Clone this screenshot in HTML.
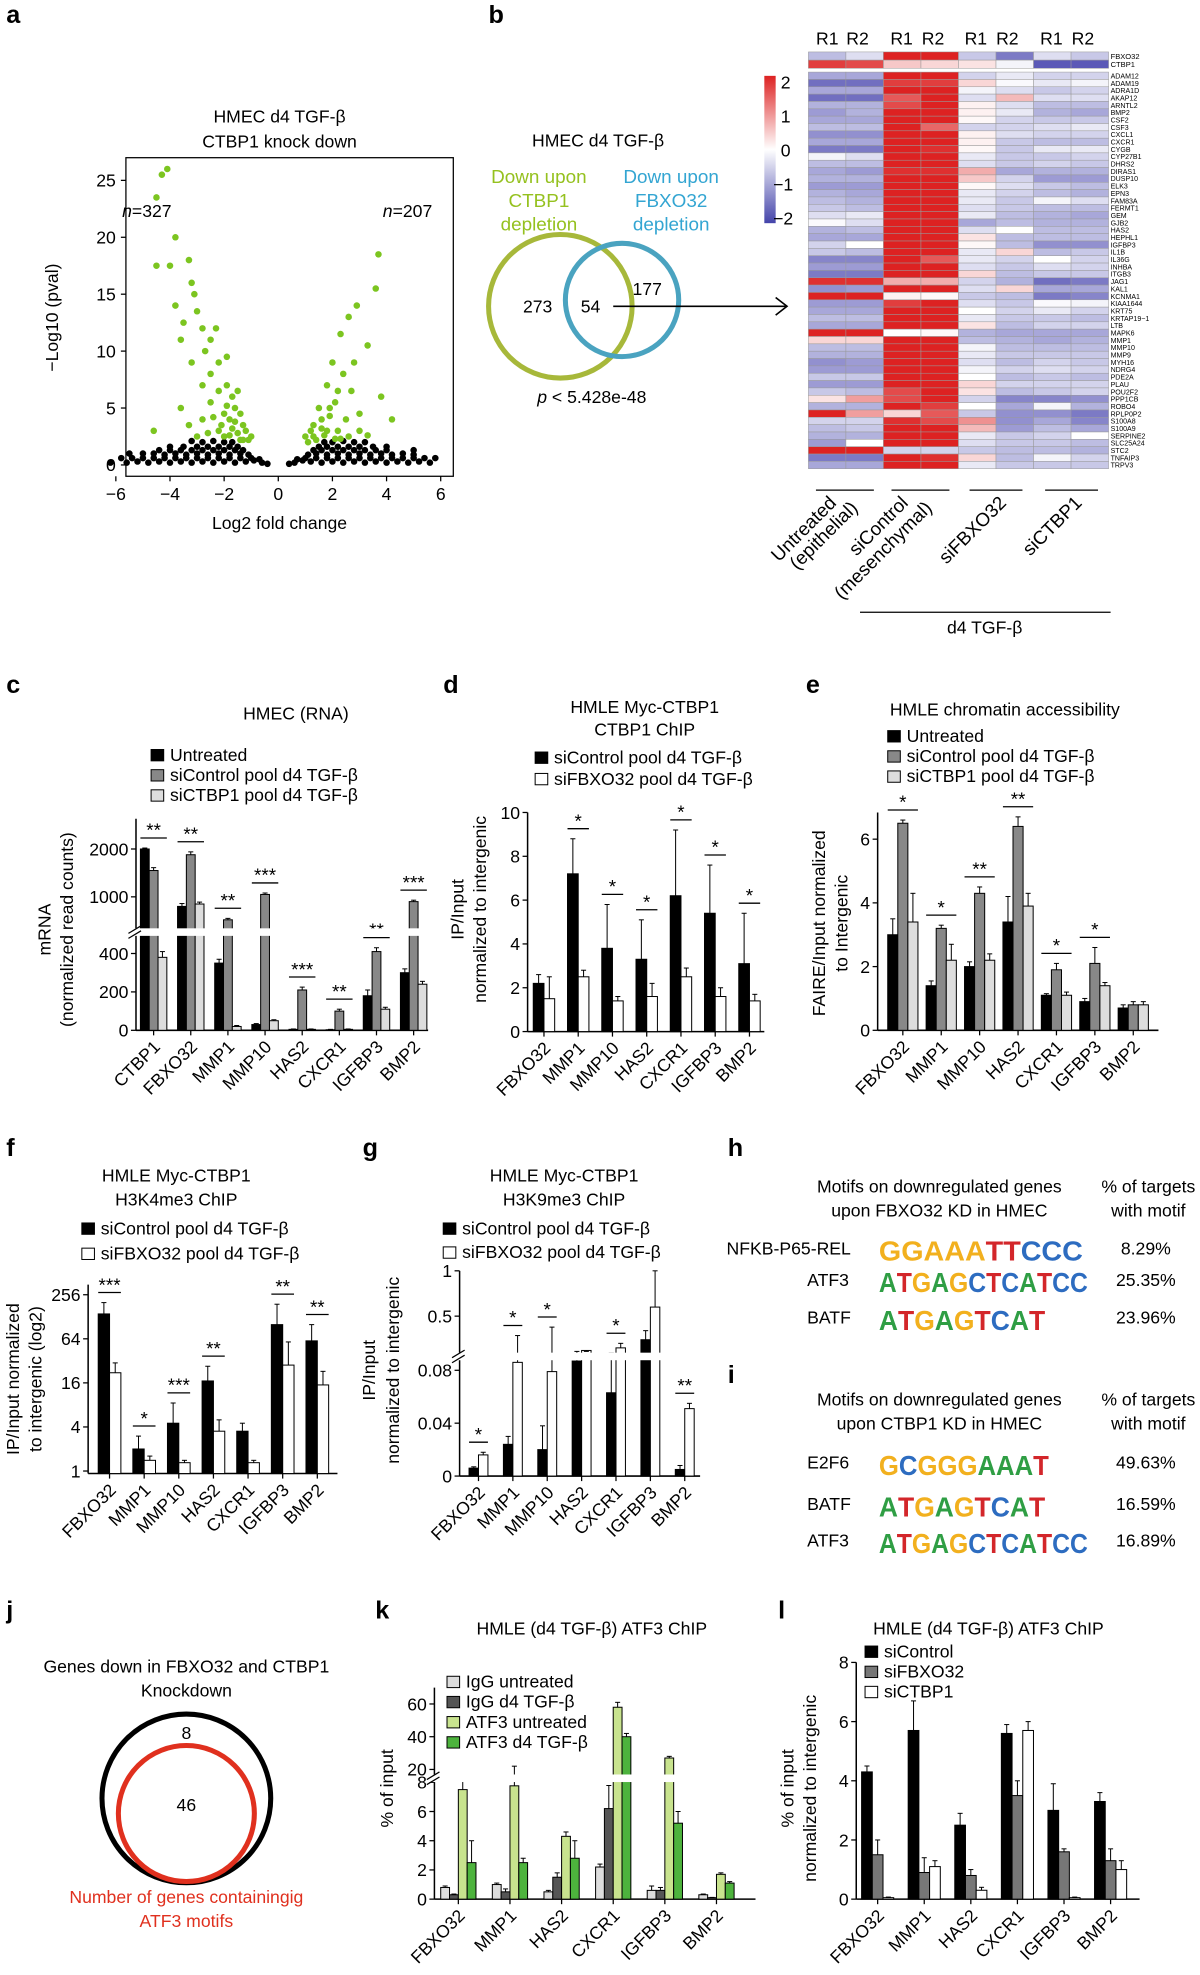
<!DOCTYPE html>
<html><head><meta charset="utf-8"><style>
html,body{margin:0;padding:0;background:#fff}
svg{display:block;font-family:"Liberation Sans",sans-serif}
</style></head><body>
<svg id="fig" xmlns="http://www.w3.org/2000/svg" width="1200" height="1975" viewBox="0 0 953 1568">
<g id="static" font-size="14" fill="#000">
<text x="5" y="18" font-size="20" font-weight="bold">a</text>
<text x="388" y="18" font-size="20" font-weight="bold">b</text>
<text x="5" y="550" font-size="20" font-weight="bold">c</text>
<text x="352" y="550" font-size="20" font-weight="bold">d</text>
<text x="640" y="550" font-size="20" font-weight="bold">e</text>
<text x="5" y="918" font-size="20" font-weight="bold">f</text>
<text x="288" y="918" font-size="20" font-weight="bold">g</text>
<text x="578" y="918" font-size="20" font-weight="bold">h</text>
<text x="578" y="1098" font-size="20" font-weight="bold">i</text>
<text x="5" y="1285" font-size="20" font-weight="bold">j</text>
<text x="298" y="1285" font-size="20" font-weight="bold">k</text>
<text x="618" y="1285" font-size="20" font-weight="bold">l</text>

<!-- a -->
<text x="222" y="97" text-anchor="middle">HMEC d4 TGF-β</text>
<text x="222" y="117" text-anchor="middle">CTBP1 knock down</text>
<rect x="100" y="125" width="260" height="253" fill="none" stroke="#000"/>
<text x="222" y="420" text-anchor="middle">Log2 fold change</text>
<text transform="translate(46,252) rotate(-90)" text-anchor="middle">−Log10 (pval)</text>
<text x="97" y="172"><tspan font-style="italic">n</tspan>=327</text>
<text x="304" y="172"><tspan font-style="italic">n</tspan>=207</text>

<!-- b venn -->
<text x="475" y="116" text-anchor="middle">HMEC d4 TGF-β</text>
<g fill="#95c11f" text-anchor="middle" font-size="15"><text x="428" y="145">Down upon</text><text x="428" y="164">CTBP1</text><text x="428" y="183">depletion</text></g>
<g fill="#33a5d2" text-anchor="middle" font-size="15"><text x="533" y="145">Down upon</text><text x="533" y="164">FBXO32</text><text x="533" y="183">depletion</text></g>
<circle cx="445" cy="243" r="57" fill="none" stroke="#a7b83a" stroke-width="4"/>
<circle cx="494" cy="238" r="45" fill="none" stroke="#4aa3c0" stroke-width="4"/>
<text x="427" y="248" text-anchor="middle">273</text>
<text x="469" y="248" text-anchor="middle">54</text>
<text x="514" y="234" text-anchor="middle">177</text>
<text x="470" y="320" text-anchor="middle"><tspan font-style="italic">p</tspan> &lt; 5.428e-48</text>
<line x1="487" y1="243" x2="624" y2="243" stroke="#000" stroke-width="1.3"/>
<polyline points="616,236 625,243 616,250" fill="none" stroke="#000" stroke-width="1.3"/>

<!-- heatmap extras -->
<defs><linearGradient id="cb" x1="0" y1="0" x2="0" y2="1"><stop offset="0" stop-color="#dd2222"/><stop offset="0.5" stop-color="#ffffff"/><stop offset="1" stop-color="#4444aa"/></linearGradient></defs>
<rect x="607" y="60" width="9" height="117" fill="url(#cb)"/>
<g font-size="14"><text x="620" y="70">2</text><text x="620" y="97">1</text><text x="620" y="124">0</text><text x="614" y="151">−1</text><text x="614" y="178">−2</text></g>
<g font-size="14" text-anchor="middle">
<text x="657" y="35">R1</text><text x="681" y="35">R2</text><text x="716" y="35">R1</text><text x="741" y="35">R2</text><text x="775" y="35">R1</text><text x="800" y="35">R2</text><text x="835" y="35">R1</text><text x="860" y="35">R2</text></g>
<g stroke="#000"><line x1="648" y1="389" x2="694" y2="389"/><line x1="708" y1="389" x2="754" y2="389"/><line x1="770" y1="389" x2="812" y2="389"/><line x1="830" y1="389" x2="872" y2="389"/><line x1="683" y1="486" x2="882" y2="486"/></g>
<g font-size="15" text-anchor="end">
<text transform="translate(665,400) rotate(-45)">Untreated</text><text transform="translate(682,404) rotate(-45)">(epithelial)</text>
<text transform="translate(722,400) rotate(-45)">siControl</text><text transform="translate(741,404) rotate(-45)">(mesenchymal)</text>
<text transform="translate(800,400) rotate(-45)">siFBXO32</text>
<text transform="translate(860,400) rotate(-45)">siCTBP1</text></g>
<text x="782" y="503" text-anchor="middle">d4 TGF-β</text>

<!-- panel titles -->
<text x="235" y="571" text-anchor="middle">HMEC (RNA)</text>
<text transform="translate(40,738) rotate(-90)" text-anchor="middle">mRNA</text>
<text transform="translate(58,738) rotate(-90)" text-anchor="middle">(normalized read counts)</text>
<text x="512" y="566" text-anchor="middle">HMLE Myc-CTBP1</text>
<text x="512" y="584" text-anchor="middle">CTBP1 ChIP</text>
<text transform="translate(368,722) rotate(-90)" text-anchor="middle">IP/Input</text>
<text transform="translate(386,722) rotate(-90)" text-anchor="middle">normalized to intergenic</text>
<text x="798" y="568" text-anchor="middle">HMLE chromatin accessibility</text>
<text transform="translate(655,733) rotate(-90)" text-anchor="middle">FAIRE/Input normalized</text>
<text transform="translate(673,733) rotate(-90)" text-anchor="middle">to Intergenic</text>
<text x="140" y="938" text-anchor="middle">HMLE Myc-CTBP1</text>
<text x="140" y="957" text-anchor="middle">H3K4me3 ChIP</text>
<text transform="translate(15,1095) rotate(-90)" text-anchor="middle">IP/Input normalized</text>
<text transform="translate(33,1095) rotate(-90)" text-anchor="middle">to intergenic (log2)</text>
<text x="448" y="938" text-anchor="middle">HMLE Myc-CTBP1</text>
<text x="448" y="957" text-anchor="middle">H3K9me3 ChIP</text>
<text transform="translate(298,1088) rotate(-90)" text-anchor="middle">IP/Input</text>
<text transform="translate(317,1088) rotate(-90)" text-anchor="middle">normalized to intergenic</text>

<!-- h -->
<text x="746" y="947" text-anchor="middle">Motifs on downregulated genes</text>
<text x="746" y="966" text-anchor="middle">upon  FBXO32 KD in HMEC</text>
<text x="912" y="947" text-anchor="middle">% of targets</text>
<text x="912" y="966" text-anchor="middle">with motif</text>
<text x="577" y="996">NFKB-P65-REL</text>
<text x="641" y="1021">ATF3</text>
<text x="641" y="1051">BATF</text>
<text x="910" y="996" text-anchor="middle">8.29%</text>
<text x="910" y="1021" text-anchor="middle">25.35%</text>
<text x="910" y="1051" text-anchor="middle">23.96%</text>
<!-- i -->
<text x="746" y="1116" text-anchor="middle">Motifs on downregulated genes</text>
<text x="746" y="1135" text-anchor="middle">upon CTBP1 KD in HMEC</text>
<text x="912" y="1116" text-anchor="middle">% of targets</text>
<text x="912" y="1135" text-anchor="middle">with motif</text>
<text x="641" y="1166">E2F6</text>
<text x="641" y="1199">BATF</text>
<text x="641" y="1228">ATF3</text>
<text x="910" y="1166" text-anchor="middle">49.63%</text>
<text x="910" y="1199" text-anchor="middle">16.59%</text>
<text x="910" y="1228" text-anchor="middle">16.89%</text>
<g font-weight="bold" font-size="22">
<text x="698" y="1001" textLength="162" lengthAdjust="spacingAndGlyphs"><tspan fill="#f2b01e">GGAAA</tspan><tspan fill="#d3262a">TT</tspan><tspan fill="#2d6cc0">CCC</tspan></text>
<text x="698" y="1026" textLength="166" lengthAdjust="spacingAndGlyphs"><tspan fill="#2f9e44">A</tspan><tspan fill="#d3262a">T</tspan><tspan fill="#f2b01e">G</tspan><tspan fill="#2f9e44">A</tspan><tspan fill="#f2b01e">G</tspan><tspan fill="#2d6cc0">C</tspan><tspan fill="#d3262a">T</tspan><tspan fill="#2d6cc0">C</tspan><tspan fill="#2f9e44">A</tspan><tspan fill="#d3262a">T</tspan><tspan fill="#2d6cc0">C</tspan><tspan fill="#2d6cc0">C</tspan></text>
<text x="698" y="1056" textLength="132" lengthAdjust="spacingAndGlyphs"><tspan fill="#2f9e44">A</tspan><tspan fill="#d3262a">T</tspan><tspan fill="#f2b01e">G</tspan><tspan fill="#2f9e44">A</tspan><tspan fill="#f2b01e">G</tspan><tspan fill="#d3262a">T</tspan><tspan fill="#2d6cc0">C</tspan><tspan fill="#2f9e44">A</tspan><tspan fill="#d3262a">T</tspan></text>
<text x="698" y="1171" textLength="135" lengthAdjust="spacingAndGlyphs"><tspan fill="#f2b01e">G</tspan><tspan fill="#2d6cc0">C</tspan><tspan fill="#f2b01e">GGG</tspan><tspan fill="#2f9e44">AA</tspan><tspan fill="#2f9e44">A</tspan><tspan fill="#d3262a">T</tspan></text>
<text x="698" y="1204" textLength="132" lengthAdjust="spacingAndGlyphs"><tspan fill="#2f9e44">A</tspan><tspan fill="#d3262a">T</tspan><tspan fill="#f2b01e">G</tspan><tspan fill="#2f9e44">A</tspan><tspan fill="#f2b01e">G</tspan><tspan fill="#d3262a">T</tspan><tspan fill="#2d6cc0">C</tspan><tspan fill="#2f9e44">A</tspan><tspan fill="#d3262a">T</tspan></text>
<text x="698" y="1233" textLength="166" lengthAdjust="spacingAndGlyphs"><tspan fill="#2f9e44">A</tspan><tspan fill="#d3262a">T</tspan><tspan fill="#f2b01e">G</tspan><tspan fill="#2f9e44">A</tspan><tspan fill="#f2b01e">G</tspan><tspan fill="#2d6cc0">C</tspan><tspan fill="#d3262a">T</tspan><tspan fill="#2d6cc0">C</tspan><tspan fill="#2f9e44">A</tspan><tspan fill="#d3262a">T</tspan><tspan fill="#2d6cc0">C</tspan><tspan fill="#2d6cc0">C</tspan></text>
</g>
<!-- j -->
<text x="148" y="1328" text-anchor="middle">Genes down in FBXO32 and CTBP1</text>
<text x="148" y="1347" text-anchor="middle">Knockdown</text>
<circle cx="148" cy="1428" r="67" fill="none" stroke="#000" stroke-width="4"/>
<circle cx="148" cy="1440" r="54" fill="none" stroke="#e0301e" stroke-width="4"/>
<text x="148" y="1381" text-anchor="middle">8</text>
<text x="148" y="1438" text-anchor="middle">46</text>
<text x="148" y="1511" text-anchor="middle" fill="#e0301e">Number of genes containingig</text>
<text x="148" y="1530" text-anchor="middle" fill="#e0301e">ATF3 motifs</text>
<!-- k,l titles -->
<text x="470" y="1298" text-anchor="middle">HMLE (d4 TGF-β) ATF3 ChIP</text>
<text transform="translate(312,1420) rotate(-90)" text-anchor="middle">% of input</text>
<text x="785" y="1298" text-anchor="middle">HMLE (d4 TGF-β) ATF3 ChIP</text>
<text transform="translate(630,1420) rotate(-90)" text-anchor="middle">% of input</text>
<text transform="translate(648,1420) rotate(-90)" text-anchor="middle">normalized to intergenic</text>
</g>
<g id="dyn"></g>
</svg>
<script>
// ---------- data: volcano ----------
const greenX=[-4.3,-4.1,-4.5,-3.8,-4.0,-4.5,-3.3,-3.2,-3.1,-3.0,-3.5,-2.8,-2.5,-3.6,-2.7,-2.2,-3.2,-2.5,-1.9,-2.8,-2.2,-1.6,-2.5,-1.8,-1.3,-2.1,-1.5,-1.0,-2.8,-3.6,-4.6,-3.0,-1.7,-2.3,-3.8,-1.9,-1.2,-1.4,-2.0,-2.4,-1.7,-1.1,-2.6,-3.3,-1.5,-2.0,-1.3,-1.6,-1.9,-2.2,-1.4,-1.8,
3.7,3.6,2.9,2.6,2.3,3.3,2.0,2.8,2.4,1.8,2.7,1.5,2.1,1.3,2.5,1.8,3.8,3.0,1.0,1.6,2.2,3.3,4.2,2.2,1.2,1.4,1.9,2.6,1.1,1.7,2.3,3.0,1.3,1.6,1.9,2.1];
const greenY=[25.5,26,23.5,20,17.5,17.5,18,16,15,13.5,12.5,12,11,11,10,9,9,8,7,7,6.5,5,5.5,4,3.5,3.5,2.8,2.5,4,5,3,2.5,6,12,14,9.5,3,4.5,4.5,4.2,3.2,2.2,2.8,3.5,6.5,2.5,2.2,3.8,5.2,3,2.2,2.6,
18.5,15.5,14,13,11.5,10.5,9,9,8,7,6.5,5,5.5,3.5,4,3,6,4.5,2.5,4,3,2.6,4,6.5,3,2.2,5,2.5,2,2.6,2.3,3,2.5,3.2,4.3,2.3];
const blackX=[-5.6,-5.2,-4.8,-4.4,-4.0,-3.6,-3.2,-2.8,-2.4,-2.0,-1.6,-1.2,-0.9,0.9,1.2,1.6,2.0,2.4,2.8,3.2,3.6,4.0,4.4,4.8,5.2,5.6,
-5.4,-5.0,-4.6,-4.2,-3.8,-3.4,-3.0,-2.6,-2.2,-1.8,-1.4,-1.0,-0.7,0.7,1.0,1.4,1.8,2.2,2.6,3.0,3.4,3.8,4.2,4.6,5.0,5.4,
-5.0,-4.6,-4.2,-3.8,-3.4,-3.0,-2.6,-2.2,-1.8,-1.4,-1.1,1.1,1.4,1.8,2.2,2.6,3.0,3.4,3.8,4.2,4.6,5.0,
-4.4,-4.0,-3.6,-3.2,-2.8,-2.4,-2.0,-1.6,-1.3,1.3,1.6,2.0,2.4,2.8,3.2,3.6,4.0,
-4.0,-3.5,-3.0,-2.6,-2.2,-1.8,-1.5,1.5,1.8,2.2,2.6,3.0,3.5,4.0,
-2.8,-2.4,-2.0,-1.7,1.7,2.0,2.4,2.8,-0.6,-0.4,0.4,0.6,-3.2,3.2,-5.8,5.8,-6.2,-5.5,5.0];
const blackY=[0.2,0.3,0.2,0.3,0.2,0.3,0.2,0.3,0.2,0.3,0.2,0.3,0.4,0.4,0.3,0.2,0.3,0.2,0.3,0.2,0.3,0.2,0.3,0.2,0.3,0.2,
0.6,0.6,0.6,0.6,0.6,0.6,0.6,0.6,0.6,0.6,0.6,0.6,0.5,0.5,0.6,0.6,0.6,0.6,0.6,0.6,0.6,0.6,0.6,0.6,0.6,0.6,
1.0,1.0,0.9,1.0,0.9,1.0,0.9,1.0,0.9,1.0,0.9,0.9,1.0,0.9,1.0,0.9,1.0,0.9,1.0,0.9,1.0,0.9,
1.3,1.3,1.3,1.3,1.3,1.3,1.3,1.3,1.3,1.3,1.3,1.3,1.3,1.3,1.3,1.3,1.3,
1.6,1.6,1.6,1.6,1.6,1.6,1.6,1.6,1.6,1.6,1.6,1.6,1.6,1.6,
2.0,2.1,2.0,2.0,2.0,2.0,2.1,2.0,0.2,0.1,0.1,0.2,2.1,2.0,0.6,0.6,0.2,1.0,1.3];
const volcXTicks=[-6,-4,-2,0,2,4,6];
const volcYTicks=[0,5,10,15,20,25];

// ---------- data: heatmap ----------
const hmTopGenes=["FBXO32","CTBP1"];
const hmTopVals=[[-0.6,-0.3,1.9,1.9,-0.5,-1.2,-0.3,-0.5],[1.4,1.3,0.4,0.3,0.2,-0.1,-1.5,-1.5]];
const hmGenes=["ADAM12","ADAM19","ADRA1D","AKAP12","ARNTL2","BMP2","CSF2","CSF3","CXCL1","CXCR1","CYGB","CYP27B1","DHRS2","DIRAS1","DUSP10","ELK3","EPN3","FAM83A","FERMT1","GEM","GJB2","HAS2","HEPHL1","IGFBP3","IL1B","IL36G","INHBA","ITGB3","JAG1","KAL1","KCNMA1","KIAA1644","KRT75","KRTAP19−1","LTB","MAPK6","MMP1","MMP10","MMP9","MYH16","NDRG4","PDE2A","PLAU","POU2F2","PPP1CB","ROBO4","RPLP0P2","S100A8","S100A9","SERPINE2","SLC25A24","STC2","TNFAIP3","TRPV3"];
const hmVals=[
[-0.8,-0.8,1.7,1.8,-0.4,-0.2,-0.4,-0.4],[-1.3,-1.3,1.4,1.4,0.3,-0.05,-0.2,-0.1],[-0.8,-0.8,1.7,1.7,-0.1,-0.3,-0.5,-0.4],[-1.3,-1.3,1.2,1.8,-0.3,0.5,-0.3,-0.3],
[-0.7,-0.7,1.3,2,0.1,-0.3,-0.6,-0.6],[-0.9,-0.7,1.7,1.7,0.1,-0.2,-0.7,-0.8],[-0.8,-0.8,1.7,1.6,0.05,-0.4,-0.5,-0.5],[-0.6,-0.6,2,1.1,-0.4,-0.4,-0.3,-0.2],
[-1,-1,1.7,1.7,0.1,-0.3,-0.4,-0.4],[-0.8,-0.8,1.6,2,0.1,-0.5,-0.6,-0.6],[-1.2,-1.2,1.8,1.5,0.05,-0.5,-0.2,-0.2],[-0.1,-0.3,1.8,1.8,-0.2,-0.5,-0.5,-0.4],
[-0.6,-0.6,1.8,1.8,-0.3,-0.5,-0.4,-0.5],[-0.8,-0.9,1.5,1.5,0.6,-0.8,-0.7,-0.7],[-0.7,-0.7,1.8,1.8,0.4,-0.4,-0.9,-0.9],[-0.9,-0.9,1.8,1.8,0.05,-0.3,-0.5,-0.6],
[-0.7,-0.8,1.9,1.8,-0.2,-0.4,-0.6,-0.7],[-0.6,-0.7,1.7,1.8,-0.2,-0.5,-0.1,-0.3],[-0.5,-0.6,1.8,1.7,-0.3,-0.5,-0.6,-0.6],[-0.3,-0.2,1.8,1.8,-0.2,-0.6,-0.7,-0.8],
[-0.05,-0.3,1.8,1.7,-0.8,-0.6,-0.7,-0.7],[-0.7,-0.6,1.8,1.6,-0.3,0,-0.6,-0.6],[-0.8,-0.8,1.8,1.7,0.2,-0.6,-0.6,-0.6],[-0.4,0,1.8,1.7,0.05,-0.6,-1,-1],
[-0.5,-0.6,1.8,1.6,-0.2,0.3,-0.6,-0.5],[-1.1,-1.1,2,1.2,-0.2,-0.4,0,-0.4],[-0.9,-0.9,1.8,1.7,-0.3,-0.5,-0.3,-0.4],[-1.2,-1.2,1.6,1.8,0.3,-0.6,-0.5,-0.5],
[1.5,1.5,0.6,0.6,-0.4,-0.7,-1.3,-1.2],[-1,-0.9,1.7,1.7,-0.3,0.3,-0.8,-0.8],[1.6,1.8,0.1,0.05,-0.5,-0.6,-1.2,-1.1],[-0.9,-0.9,1.4,2,-0.3,-0.5,-0.05,-0.1],
[-0.8,-0.8,1.8,1.6,0,-0.4,-0.2,-0.4],[-0.6,-0.6,1.6,2,-0.2,-0.5,-0.5,-0.6],[-0.8,-0.8,1.8,1.7,0.2,-0.6,-0.4,-0.4],[1.6,1.9,0,0.05,-0.7,-0.8,-0.8,-0.8],
[0.3,0.3,1.7,1.8,-0.6,-0.7,-0.8,-0.7],[-0.6,-0.6,1.9,1.8,-0.1,-0.6,-0.6,-0.6],[-0.7,-0.7,2,1.8,-0.2,-0.5,-0.5,-0.5],[-1,-0.9,1.9,1.8,-0.3,-0.6,-0.4,-0.5],
[-0.9,-0.9,1.9,1.6,-0.1,-0.4,-0.3,-0.4],[-0.5,-0.5,1.9,1.7,0,-0.6,-0.5,-0.6],[-0.9,-0.9,1.7,1.6,0.3,-0.4,-0.4,-0.4],[-0.5,-0.6,1.3,2,0.2,-0.6,-0.5,-0.4],
[0.2,0.7,1.3,1.7,-0.4,-1.1,-1.1,-1],[-0.7,-0.7,2,1.4,0,-0.8,-0.1,-0.7],[1.8,0.7,0.3,1.2,-0.5,-1,-1,-1.2],[-0.4,-0.4,1.5,1.3,0.8,-1,-0.8,-1.1],
[-0.6,-0.5,1.6,1.8,0.5,-0.9,-0.6,-0.8],[-0.7,-0.7,1.7,1.8,-0.2,-0.5,-0.4,0],[-0.9,0,1.8,2,-0.3,-0.5,-0.5,-0.6],[1.9,1.9,-0.4,-0.4,-0.5,-0.6,-0.6,-0.7],
[-1.2,-1.2,1.8,1.5,0.3,-0.6,-0.1,-0.4],[-0.8,-0.8,1.8,1.8,-0.2,-0.5,-0.5,-0.5]];

// ---------- data: bar panels ----------
const cCats=["CTBP1","FBXO32","MMP1","MMP10","HAS2","CXCR1","IGFBP3","BMP2"];
const cUntreated=[2000,800,350,30,5,3,180,300];
const cSiControl=[1550,1880,520,1050,210,100,410,900];
const cSiCTBP1=[380,850,20,50,5,5,110,240];
const cErr=[[20,60,20,5,2,2,30,20],[60,60,30,30,15,10,20,30],[30,40,5,5,2,2,10,15]];
const cStars=["**","**","**","***","***","**","**","***"];
const cTicks=[0,200,400,1000,2000];

const dCats=["FBXO32","MMP1","MMP10","HAS2","CXCR1","IGFBP3","BMP2"];
const dSiControl=[2.2,7.2,3.8,3.3,6.2,5.4,3.1];
const dSiFBXO32=[1.5,2.5,1.4,1.6,2.5,1.6,1.4];
const dErr=[[0.4,1.6,2.0,1.8,3.0,2.2,2.3],[1.0,0.3,0.2,0.6,0.4,0.4,0.3]];
const dStars=["","*","*","*","*","*","*"];
const dTicks=[0,2,4,6,8,10];

const eCats=["FBXO32","MMP1","MMP10","HAS2","CXCR1","IGFBP3","BMP2"];
const eUntreated=[3.0,1.4,2.0,3.4,1.1,0.9,0.7];
const eSiControl=[6.5,3.2,4.3,6.4,1.9,2.1,0.8];
const eSiCTBP1=[3.4,2.2,2.2,3.9,1.1,1.4,0.8];
const eErr=[[0.5,0.15,0.15,0.8,0.05,0.1,0.1],[0.1,0.1,0.2,0.3,0.2,0.5,0.1],[0.9,0.5,0.2,0.4,0.1,0.1,0.1]];
const eStars=["*","*","**","**","*","*",""];
const eTicks=[0,2,4,6];

const fCats=["FBXO32","MMP1","MMP10","HAS2","CXCR1","IGFBP3","BMP2"];
const fSiControl=[140,2,4.5,17,3.5,100,60];
const fSiFBXO32=[22,1.4,1.3,3.5,1.3,28,15];
const fErr=[[60,1,4,10,1,90,40],[8,0.2,0.1,1.5,0.1,30,8]];
const fStars=["***","*","***","**","","**","**"];
const fTicks=[1,4,16,64,256];

const gCats=["FBXO32","MMP1","MMP10","HAS2","CXCR1","IGFBP3","BMP2"];
const gSiControl=[0.006,0.024,0.02,0.087,0.063,0.24,0.005];
const gSiFBXO32=[0.016,0.086,0.079,0.095,0.15,0.6,0.051];
const gErr=[[0.001,0.006,0.018,0.01,0.03,0.1,0.003],[0.002,0.2,0.3,0.003,0.05,0.4,0.004]];
const gStars=["*","*","*","","*","","**"];
const gTicks=[0,0.04,0.08,0.5,1];

const kCats=["FBXO32","MMP1","HAS2","CXCR1","IGFBP3","BMP2"];
const kIgGUnt=[0.8,1.0,0.5,2.2,0.6,0.3];
const kIgGD4=[0.3,0.5,1.5,6.2,0.6,0.1];
const kATF3Unt=[7.5,10,4.3,58,27,1.7];
const kATF3D4=[2.5,2.5,2.8,40,5.2,1.1];
const kErr=[[0.1,0.1,0.1,0.2,0.3,0.05],[0.05,0.2,0.3,4,0.2,0.02],[0.8,12,0.3,3,1,0.1],[1.5,0.3,1.2,2,0.8,0.1]];
const kTicks=[0,2,4,6,8,20,40,60];

const lCats=["FBXO32","MMP1","HAS2","CXCR1","IGFBP3","BMP2"];
const lSiControl=[4.3,5.7,2.5,5.6,3.0,3.3];
const lSiFBXO32=[1.5,0.9,0.8,3.5,1.6,1.3];
const lSiCTBP1=[0.05,1.1,0.3,5.7,0.05,1.0];
const lErr=[[0.2,1.0,0.4,0.3,0.9,0.3],[0.5,0.5,0.2,0.5,0.1,0.4],[0.02,0.2,0.1,0.3,0.02,0.3]];
const lTicks=[0,2,4,6,8];

// ---------- drawing ----------
const NS="http://www.w3.org/2000/svg";
const root=document.getElementById('dyn');
function mk(tag,attrs,parent){const e=document.createElementNS(NS,tag);for(const k in attrs)e.setAttribute(k,attrs[k]);(parent||root).appendChild(e);return e;}
function txt(x,y,s,attrs,parent){const e=mk('text',Object.assign({x:x,y:y,'font-size':14},attrs||{}),parent);e.textContent=s;return e;}

// volcano
const vx=v=>221+v*21.5, vy=v=>369-v*9.04;
const vg=mk('g',{});


for(let i=0;i<blackX.length;i++){const c=mk('circle',{cx:vx(blackX[i]),cy:vy(blackY[i]),r:2.6,fill:'#000'},vg);}
for(let i=0;i<greenX.length;i++){const c=mk('circle',{cx:vx(greenX[i]),cy:vy(greenY[i]),r:2.6,fill:'#7cc520'},vg);}
volcXTicks.forEach(t=>{mk('line',{x1:vx(t),x2:vx(t),y1:378,y2:382,stroke:'#000'});const e=txt(vx(t),397,t<0?'−'+(-t):String(t),{'text-anchor':'middle'});});
volcYTicks.forEach(t=>{mk('line',{x1:96,x2:100,y1:vy(t),y2:vy(t),stroke:'#000'});const e=txt(92,vy(t)+5,String(t),{'text-anchor':'end'});});

// heatmap
function hmColor(v){v=Math.max(-2,Math.min(2,v));let a,b,t;
 if(v>=0){a=[255,255,255];b=[221,34,34];t=v/2;}else{a=[255,255,255];b=[80,78,178];t=-v/2;}
 const c=a.map((x,i)=>Math.round(x+(b[i]-x)*Math.min(1,t*1.25)));return `rgb(${c[0]},${c[1]},${c[2]})`;}
const hx0=642,hcw=29.8;
const hg=mk('g',{});


hmTopVals.forEach((row,r)=>{row.forEach((v,c)=>{const e=mk('rect',{x:hx0+c*hcw,y:41+r*6.5,width:hcw,height:6.5,fill:hmColor(v),stroke:'#999','stroke-width':0.4},hg);});
 const l=txt(882,41+r*6.5+5.5,hmTopGenes[r],{'font-size':6},hg);});
const rh=(372-57)/hmVals.length;
hmVals.forEach((row,r)=>{row.forEach((v,c)=>{const e=mk('rect',{x:hx0+c*hcw,y:57+r*rh,width:hcw,height:rh,fill:hmColor(v),stroke:'#999','stroke-width':0.4},hg);});
 const l=txt(882,57+r*rh+rh-0.8,hmGenes[r],{'font-size':5.6},hg);});

// generic bars
function barChart(o){
 const g=mk('g',{});
 
 
 const n=o.series.length;
 mk('line',{x1:o.axisX,x2:o.axisX,y1:o.axisTop,y2:o.base,stroke:'#000','stroke-width':1.2},g);
 mk('line',{x1:o.axisX,x2:o.axisRight,y1:o.base,y2:o.base,stroke:'#000','stroke-width':1.2},g);
 o.ticks.forEach(t=>{const y=o.yf(t);mk('line',{x1:o.axisX-4,x2:o.axisX,y1:y,y2:y,stroke:'#000'},g);
   const e=txt(o.axisX-6,y+5,String(t),{'text-anchor':'end'},g);});
 o.cats.forEach((cat,i)=>{
  const cx=o.c0+i*o.step;
  let top=o.base;
  o.series.forEach((s,j)=>{
   const x=cx+(j-(n-1)/2)*o.bw-o.bw/2;const v=s.vals[i];const y=o.yf(v);
   const r=mk('rect',{x:x,y:Math.min(y,o.base),width:o.bw,height:Math.abs(o.base-y),fill:s.color,stroke:'#000','stroke-width':0.8},g);
   
   
   const ye=o.yf(v+s.err[i]);
   mk('line',{x1:x+o.bw/2,x2:x+o.bw/2,y1:y,y2:ye,stroke:'#000','stroke-width':0.8},g);
   mk('line',{x1:x+o.bw/2-2,x2:x+o.bw/2+2,y1:ye,y2:ye,stroke:'#000','stroke-width':0.8},g);
   top=Math.min(top,ye);
  });
  mk('line',{x1:cx,x2:cx,y1:o.base,y2:o.base+4,stroke:'#000'},g);
  const l=txt(cx+6,o.base+14,cat,{'text-anchor':'end',transform:`rotate(-45 ${cx+6} ${o.base+14})`},g);
  
  if(o.stars&&o.stars[i]){const ly=top-8;const x1=cx-(n-1)/2*o.bw-o.bw/2,x2=cx+(n-1)/2*o.bw+o.bw/2;
   mk('line',{x1:x1,x2:x2,y1:ly,y2:ly,stroke:'#000'},g);
   const st=txt((x1+x2)/2,ly-1,o.stars[i],{'text-anchor':'middle','font-size':15},g);}
 });
 if(o.breakY){mk('rect',{x:o.axisX-6,y:o.breakY-3,width:o.axisRight-o.axisX+6,height:6,fill:'#fff'},g);
  mk('line',{x1:o.axisX-6,x2:o.axisX+4,y1:o.breakY+5,y2:o.breakY-1,stroke:'#000'},g);mk('line',{x1:o.axisX-6,x2:o.axisX+4,y1:o.breakY+1,y2:o.breakY-5,stroke:'#000'},g);}
 if(o.legend){o.legend.forEach((lab,j)=>{const ly=o.legY+j*o.legStep;
  const sw=mk('rect',{x:o.legX,y:ly-9,width:10,height:9,fill:o.series[j].color,stroke:'#000','stroke-width':0.8},g);
  const t=txt(o.legX+15,ly,lab,{},g);});}
}

barChart({name:'chart-c',cats:cCats,series:[{key:'untreated',vals:cUntreated,err:cErr[0],color:'#000'},{key:'sicontrol',vals:cSiControl,err:cErr[1],color:'#888'},{key:'sictbp1',vals:cSiCTBP1,err:cErr[2],color:'#ddd'}],
 c0:122,step:29.5,bw:7,base:818,axisX:108,axisTop:650,axisRight:340,
 yf:v=>v<=450?818-v*0.1525:750-v*0.038,ticks:cTicks,breakY:740,stars:cStars,
 legend:['Untreated','siControl pool d4 TGF-β','siCTBP1 pool d4 TGF-β'],legX:120,legY:604,legStep:16});
barChart({name:'chart-d',cats:dCats,series:[{key:'sicontrol',vals:dSiControl,err:dErr[0],color:'#000'},{key:'sifbxo32',vals:dSiFBXO32,err:dErr[1],color:'#fff'}],
 c0:432,step:27.2,bw:8.5,base:819,axisX:419,axisTop:645,axisRight:607,yf:v=>819-v*17.4,ticks:dTicks,stars:dStars,
 legend:['siControl pool d4 TGF-β','siFBXO32 pool d4 TGF-β'],legX:425,legY:606,legStep:17});
barChart({name:'chart-e',cats:eCats,series:[{key:'untreated',vals:eUntreated,err:eErr[0],color:'#000'},{key:'sicontrol',vals:eSiControl,err:eErr[1],color:'#888'},{key:'sictbp1',vals:eSiCTBP1,err:eErr[2],color:'#ddd'}],
 c0:717,step:30.5,bw:8,base:818,axisX:697,axisTop:645,axisRight:920,yf:v=>818-v*25.3,ticks:eTicks,stars:eStars,
 legend:['Untreated','siControl pool d4 TGF-β','siCTBP1 pool d4 TGF-β'],legX:705,legY:589,legStep:16});
barChart({name:'chart-f',cats:fCats,series:[{key:'sicontrol',vals:fSiControl,err:fErr[0],color:'#000'},{key:'sifbxo32',vals:fSiFBXO32,err:fErr[1],color:'#fff'}],
 c0:87,step:27.5,bw:9,base:1170,axisX:70,axisTop:1020,axisRight:268,yf:v=>1168-Math.log2(v)*17.5,ticks:fTicks,stars:fStars,
 legend:['siControl pool d4 TGF-β','siFBXO32 pool d4 TGF-β'],legX:65,legY:980,legStep:20});
barChart({name:'chart-g',cats:gCats,series:[{key:'sicontrol',vals:gSiControl,err:gErr[0],color:'#000'},{key:'sifbxo32',vals:gSiFBXO32,err:gErr[1],color:'#fff'}],
 c0:380,step:27.3,bw:7.5,base:1172,axisX:365,axisTop:1009,axisRight:556,yf:v=>v<=0.095?1172-v*1050:Math.min(1073,1081-v*72),ticks:gTicks,stars:gStars,breakY:1077,
 legend:['siControl pool d4 TGF-β','siFBXO32 pool d4 TGF-β'],legX:352,legY:980,legStep:19});
barChart({name:'chart-k',cats:kCats,series:[{key:'igg-untreated',vals:kIgGUnt,err:kErr[0],color:'#ddd'},{key:'igg-d4',vals:kIgGD4,err:kErr[1],color:'#555'},{key:'atf3-untreated',vals:kATF3Unt,err:kErr[2],color:'#c8e38e'},{key:'atf3-d4',vals:kATF3D4,err:kErr[3],color:'#4db33d'}],
 c0:364,step:41,bw:7,base:1508,axisX:345,axisTop:1340,axisRight:600,yf:v=>v<=9?1508-v*11.6:1431-v*1.3,ticks:kTicks,breakY:1412,
 legend:['IgG untreated','IgG d4 TGF-β','ATF3 untreated','ATF3 d4 TGF-β'],legX:355,legY:1340,legStep:16});
barChart({name:'chart-l',cats:lCats,series:[{key:'sicontrol',vals:lSiControl,err:lErr[0],color:'#000'},{key:'sifbxo32',vals:lSiFBXO32,err:lErr[1],color:'#777'},{key:'sictbp1',vals:lSiCTBP1,err:lErr[2],color:'#fff'}],
 c0:697,step:37,bw:8.5,base:1508,axisX:680,axisTop:1320,axisRight:905,yf:v=>1508-v*23.5,ticks:lTicks,
 legend:['siControl','siFBXO32','siCTBP1'],legX:687,legY:1316,legStep:16});
</script>
</body></html>
